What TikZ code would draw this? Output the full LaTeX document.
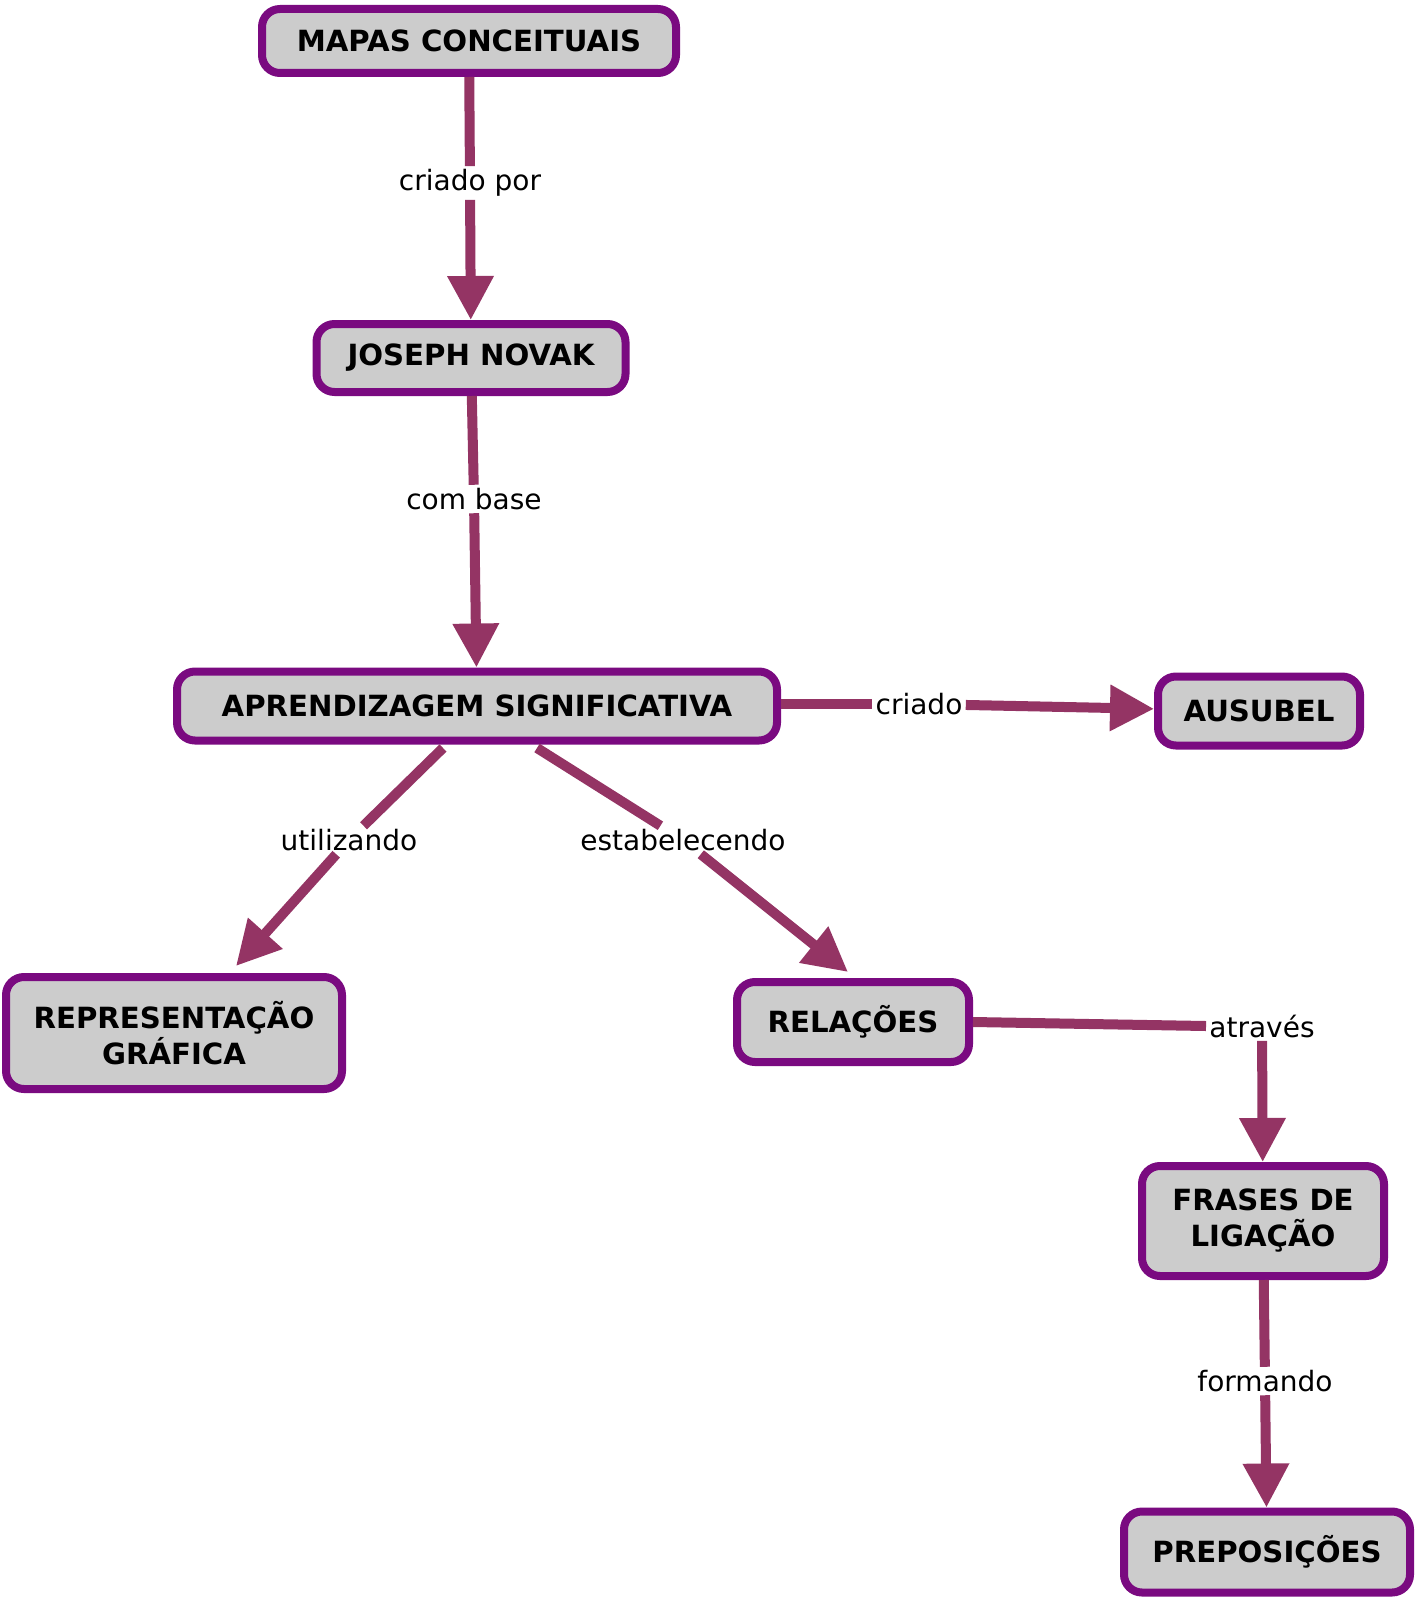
\documentclass[tikz,border=0pt]{standalone}
\usepackage{fontspec}
\setmainfont{DejaVu Sans}
\usetikzlibrary{arrows.meta}
\definecolor{edge}{HTML}{943464}
\definecolor{bord}{HTML}{7A0A80}
\definecolor{boxf}{HTML}{CCCCCC}
\begin{document}
\begin{tikzpicture}[x=0.5pt,y=-0.5pt,
  box/.style={draw=bord,line width=4pt,fill=boxf,rounded corners=9pt,align=center,font=\fontsize{14.6}{18}\selectfont\bfseries,inner sep=0pt},
  lab/.style={fill=white,inner sep=1.5pt,font=\fontsize{14}{16}\selectfont},
  arr/.style={draw=edge,line width=5pt,-{Triangle[length=22pt,width=22pt]}},
  ln/.style={draw=edge,line width=5pt}]
\useasboundingbox (0,0) rectangle (1419,1600);
\node[box,minimum width=414pt/2,minimum height=64pt/2] (mapas) at (469,41) {MAPAS CONCEITUAIS};
\node[box,minimum width=309pt/2,minimum height=68pt/2] (novak) at (471,358) {JOSEPH NOVAK};
\node[box,minimum width=600pt/2,minimum height=69pt/2] (apr) at (477,706) {APRENDIZAGEM SIGNIFICATIVA};
\node[box,minimum width=202pt/2,minimum height=69pt/2] (aus) at (1259,711) {AUSUBEL};
\node[box,minimum width=336pt/2,minimum height=112pt/2] (rep) at (174,1033) {REPRESENTAÇÃO\\GRÁFICA};
\node[box,minimum width=232pt/2,minimum height=80pt/2] (rel) at (853,1022) {RELAÇÕES};
\node[box,minimum width=242pt/2,minimum height=110pt/2] (fra) at (1263,1221) {FRASES DE\\LIGAÇÃO};
\node[box,minimum width=286pt/2,minimum height=81pt/2] (pre) at (1267,1552) {PREPOSIÇÕES};

\node[lab] (l1) at (470,183) {criado por};
\node[lab] (l2) at (474,499) {com base};
\node[lab] (l3) at (919,704) {criado};
\node[lab] (l4) at (349,840) {utilizando};
\node[lab] (l5) at (683,840) {estabelecendo};
\node[lab] (l6) at (1262,1026) {através};
\node[lab] (l7) at (1265,1381) {formando};

\coordinate (a1) at (443,748); \coordinate (a2) at (537,748);
\coordinate (t4) at (236,966); \coordinate (t5) at (848,972);
\coordinate (r1) at (973,1022);
\draw[ln] (mapas) -- (l1); \draw[arr] (l1) -- (novak);
\draw[ln] (novak) -- (l2); \draw[arr] (l2) -- (apr);
\draw[ln] (apr.east|-l3) -- (l3); \draw[arr] (l3) -- (aus);
\draw[ln] (a1) -- (l4); \draw[arr] (l4) -- (t4);
\draw[ln] (a2) -- (l5); \draw[arr] (l5) -- (t5);
\draw[ln] (r1) -- (l6.west);
\draw[arr] (l6) -- (fra);
\draw[ln] (fra) -- (l7); \draw[arr] (l7) -- (pre);
\end{tikzpicture}
\end{document}
